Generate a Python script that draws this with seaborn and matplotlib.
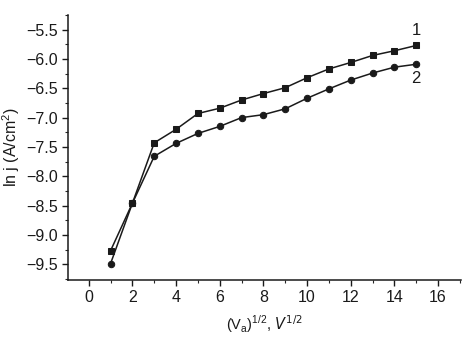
import matplotlib
matplotlib.use("Agg")
import matplotlib.pyplot as plt
from matplotlib.ticker import MultipleLocator
import numpy as np
import pandas as pd
import seaborn as sns

# Square root of bias voltage
sqrt_v = [1, 2, 3, 4, 5, 6, 7, 8, 9, 10, 11, 12, 13, 14, 15]
# ln of current density, sample 1 (squares) and sample 2 (circles)
ln_j_1 = [-9.27, -8.46, -7.43, -7.20, -6.93, -6.84, -6.70, -6.59, -6.49,
          -6.32, -6.17, -6.06, -5.94, -5.86, -5.77]
ln_j_2 = [-9.49, -8.46, -7.66, -7.44, -7.27, -7.15, -7.00, -6.95, -6.85,
          -6.67, -6.51, -6.36, -6.24, -6.14, -6.09]
curve_names = ["1", "2"]

df = pd.concat([
    pd.DataFrame({"x": sqrt_v, "y": ln_j_1, "curve": curve_names[0]}),
    pd.DataFrame({"x": sqrt_v, "y": ln_j_2, "curve": curve_names[1]}),
], ignore_index=True)

sns.set_style("ticks")
plt.rcParams["font.family"] = ["Liberation Sans", "DejaVu Sans"]

fig = plt.figure(figsize=(4.74, 3.44), dpi=100)
ax = fig.add_axes([68 / 474, 1 - 280 / 344, (461 - 68) / 474, (280 - 15) / 344])

sns.lineplot(data=df, x="x", y="y", hue="curve", style="curve",
             markers={"1": "s", "2": "o"}, dashes=False,
             palette={"1": "#1a1a1a", "2": "#1a1a1a"},
             markersize=4.6, linewidth=1.1, markeredgecolor="#1a1a1a",
             legend=False, ax=ax)

ax.set_xlim(-0.95, 17.05)
ax.set_ylim(-9.77, -5.25)
ax.xaxis.set_major_locator(MultipleLocator(2))
ax.xaxis.set_minor_locator(MultipleLocator(1))
ax.yaxis.set_major_locator(MultipleLocator(0.5))
ax.yaxis.set_minor_locator(MultipleLocator(0.25))
ax.tick_params(axis="both", which="major", direction="out", length=4,
               width=1, labelsize=11.5, colors="#1a1a1a", pad=3)
ax.tick_params(axis="both", which="minor", direction="out", length=2.5, width=0.8)

for side in ("top", "right"):
    ax.spines[side].set_visible(False)
for side in ("left", "bottom"):
    ax.spines[side].set_linewidth(1.1)
    ax.spines[side].set_color("#1a1a1a")

ax.set_xlabel(r"(V$_\mathregular{a}$)$^\mathregular{1/2}$, $V^{1/2}$",
              fontsize=10.5, labelpad=6, color="#1a1a1a")
ax.set_ylabel(r"ln j (A/cm$^\mathregular{2}$)", fontsize=11.5, labelpad=3,
              color="#1a1a1a")

ax.text(sqrt_v[-1], ln_j_1[-1] + 0.13, curve_names[0], ha="center", va="bottom",
        fontsize=12, color="#1a1a1a")
ax.text(sqrt_v[-1], ln_j_2[-1] - 0.11, curve_names[1], ha="center", va="top",
        fontsize=12, color="#1a1a1a")

fig.savefig("out.png", dpi=100)
